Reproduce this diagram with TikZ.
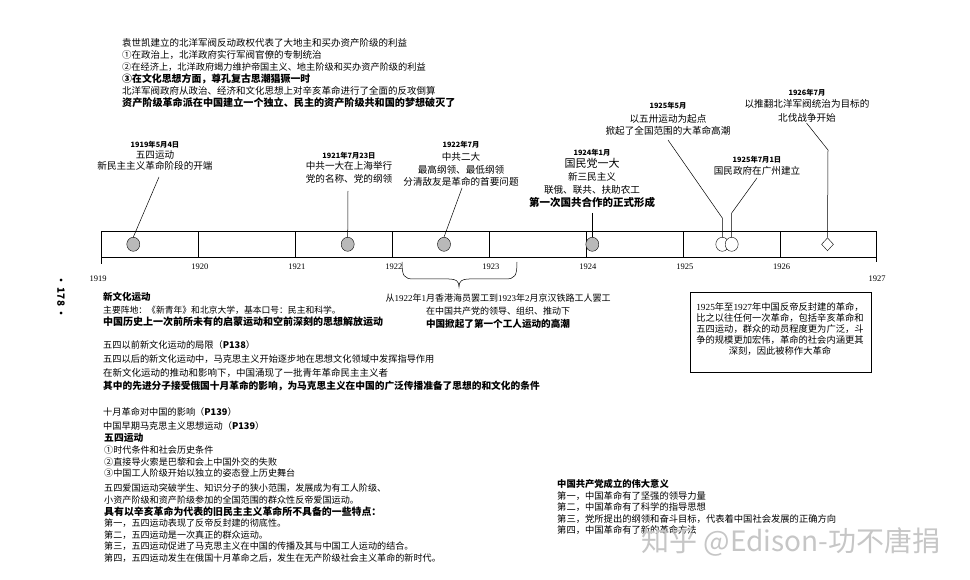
\documentclass[tikz,border=0pt]{standalone}
\usepackage{fontspec}
\setmainfont{Noto Sans CJK SC}
\newfontfamily\yrfont{Liberation Serif}
\usetikzlibrary{shapes.geometric}

\newcommand\dte[1]{{\fontsize{7.3}{10}\selectfont\bfseries #1}}
\newcommand\num[1]{{\yrfont #1}}

\tikzset{
  para/.style={anchor=north west, align=left, inner sep=0pt, font=\fontsize{9.5}{12}\selectfont},
  evt/.style={anchor=north, align=center, inner sep=0pt, font=\fontsize{9.6}{12.5}\selectfont},
  dot/.style={ellipse, draw, fill=gray!55, minimum width=13pt, minimum height=14pt, inner sep=0pt},
  opendot/.style={dot, fill=white},
  yr/.style={font=\yrfont\fontsize{8.5}{10}\selectfont, inner sep=0pt},
  conn/.style={line width=0.5pt},
}

\begin{document}
\begin{tikzpicture}[x=1pt, y=-1pt]
\useasboundingbox (0,0) rectangle (970,580);

% page number
\node[rotate=-90, font=\bfseries\fontsize{10}{12}\selectfont] (pageno) at (61,297) {· 178 ·};

% the warlord regime
\node[para] (warlord) at (122,38.5) {袁世凯建立的北洋军阀反动政权代表了大地主和买办资产阶级的利益\\
①在政治上，北洋政府实行军阀官僚的专制统治\\
{\fontsize{9.2}{12}\selectfont ②在经济上，北洋政府竭力维护帝国主义、地主阶级和买办资产阶级的利益}\\
{\fontsize{9.9}{12}\selectfont\bfseries ③在文化思想方面，尊孔复古思潮猖獗一时}\\
北洋军阀政府从政治、经济和文化思想上对辛亥革命进行了全面的反攻倒算\\
{\fontsize{10.1}{12}\selectfont\bfseries 资产阶级革命派在中国建立一个独立、民主的资产阶级共和国的梦想破灭了}};

% the time bar
\draw[line width=0.6pt] (101,231) rectangle (876.7,257.5);
\foreach \yr [count=\i from 0] in {1919,...,1927} {
  \coordinate (t\yr) at ({101+96.96*\i},257.5);
}
\foreach \yr [count=\i from 1] in {1920,...,1926} {
  \draw (t\yr) -- ++(0,-26.5);
  \node[yr] (yl\yr) at ({103+96.96*\i},267) {\yr};
}
\draw (t1919) -- ++(0,7);
\draw (t1927) -- ++(0,5);
\node[yr] (yl1919) at (98,278.5) {1919};
\node[yr] (yl1927) at (877,279) {1927};

% events on the bar
\node[dot] (may4) at (133.3,244.3) {};
\node[dot] (cpc1) at (347.7,244.3) {};
\node[dot] (cpc2) at (444,244.3) {};
\node[dot] (kmt1) at (592.3,244.3) {};
\node[opendot] (may30) at (722.3,244.3) {};
\node[opendot] (natgov) at (731.7,244.3) {};
\node[diamond, draw, fill=white, minimum width=12pt, minimum height=13pt, inner sep=0pt] (northexp) at (827.5,244.3) {};

% event labels
\node[evt] (may4lbl) at (155,141) {\dte{1919年5月4日}\\[-1.5pt]五四运动\\[-1.5pt]新民主主义革命阶段的开端};
\node[evt] (cpc1lbl) at (349,152.5) {\dte{1921年7月23日}\\[-1.5pt]中共一大在上海举行\\党的名称、党的纲领};
\node[evt] (cpc2lbl) at (461,141) {\dte{1922年7月}\\[0.5pt]中共二大\\[1pt]最高纲领、最低纲领\\[-1pt]分清敌友是革命的首要问题};
\node[evt] (kmt1lbl) at (592,149) {\dte{1924年1月}\\{\fontsize{11}{13}\selectfont 国民党一大}\\[0.5pt]新三民主义\\联俄、联共、扶助农工\\[0.5pt]{\fontsize{10.5}{13}\selectfont\bfseries 第一次国共合作的正式形成}};
\node[evt] (may30lbl) at (668,102) {\dte{1925年5月}\\[1.5pt]以五卅运动为起点\\掀起了全国范围的大革命高潮};
\node[evt] (natgovlbl) at (757,156.5) {\dte{1925年7月1日}\\[-0.5pt]国民政府在广州建立};
\node[evt] (northexplbl) at (807,89) {\dte{1926年7月}\\以推翻北洋军阀统治为目标的\\[1pt]北伐战争开始};

% connectors
\coordinate (may4top) at (159,177);
\coordinate (cpc1top) at (348,191);
\coordinate (cpc2top) at (462,188);
\coordinate (kmt1top) at (592.3,213);
\coordinate (may30top) at (668,140);
\coordinate (may30bend) at (722.3,218);
\coordinate (natgovtop) at (757,178);
\coordinate (natgovbend) at (731.7,213);
\coordinate (northexptop) at (806.5,123);
\coordinate (northexpbend) at (828,150);
\draw[conn] (may4top) -- (may4.north);
\draw[conn] (cpc1top) -- (cpc1.north);
\draw[conn] (cpc2top) -- (cpc2.north);
\draw[conn] (kmt1top) -- (kmt1.north);
\draw[conn] (may30top) -- (may30bend) -- (may30.north);
\draw[conn] (natgovtop) -- (natgovbend) -- (natgov.north);
\draw[conn] (northexptop) -- (northexpbend) -- (northexp.north);

% brace under 1922-1923
\coordinate (braceL) at (402,262);
\coordinate (braceR) at (517,262);
\coordinate (braceTip) at (459,287);
\draw[conn] (braceL) .. controls (402,276) and (404,279) .. (414,279) -- (449,279)
  .. controls (456,279) and (459,281) .. (braceTip)
  .. controls (459,281) and (462,279) .. (469,279) -- (505,279)
  .. controls (515,279) and (517,276) .. (braceR);
\node[anchor=north, align=center, inner sep=0pt, font=\fontsize{9}{13}\selectfont] (strikes) at (498,293.5)
  {从\num{1922}年\num{1}月香港海员罢工到\num{1923}年\num{2}月京汉铁路工人罢工\\
   在中国共产党的领导、组织、推动下\\
   {\fontsize{9.6}{13}\selectfont\bfseries 中国掀起了第一个工人运动的高潮}};

% the great revolution box
\node[draw, line width=0.5pt, minimum width=181pt, minimum height=80pt, inner sep=0pt] (bigrevbox) at (780.5,332) {};
\node[align=center, inner sep=0pt, font=\fontsize{9.3}{11}\selectfont] (bigrev) at (780,329)
  {\num{1925}年至\num{1927}年中国反帝反封建的革命，\\
   比之以往任何一次革命，包括辛亥革命和\\
   五四运动，群众的动员程度更为广泛，斗\\
   争的规模更加宏伟，革命的社会内涵更其\\
   深刻，因此被称作大革命};

% new culture movement
\node[para, font=\fontsize{9.5}{12.7}\selectfont] (newcult) at (103,292) {\textbf{新文化运动}\\
{\fontsize{8.8}{12.7}\selectfont 主要阵地：《新青年》和北京大学，基本口号：民主和科学。}\\
{\fontsize{10}{12.7}\selectfont\bfseries 中国历史上一次前所未有的启蒙运动和空前深刻的思想解放运动}};

\node[para, font=\fontsize{9.2}{13.8}\selectfont] (limits) at (103,340.5) {五四以前新文化运动的局限（\textbf{P138}）\\
五四以后的新文化运动中，马克思主义开始逐步地在思想文化领域中发挥指导作用\\
{\fontsize{9.5}{13.8}\selectfont 在新文化运动的推动和影响下，中国涌现了一批青年革命民主主义者}\\
{\fontsize{9.7}{13.8}\selectfont\bfseries 其中的先进分子接受俄国十月革命的影响，为马克思主义在中国的广泛传播准备了思想的和文化的条件}};

\node[para, font=\fontsize{9.2}{13.5}\selectfont] (october) at (103,407.5) {十月革命对中国的影响（\textbf{P139}）\\
中国早期马克思主义思想运动（\textbf{P139}）};

% may fourth movement
\node[para, font=\fontsize{9.1}{11.6}\selectfont] (may4th) at (104,433.5) {{\fontsize{9.8}{11.6}\selectfont\bfseries 五四运动}\\
①时代条件和社会历史条件\\
②直接导火索是巴黎和会上中国外交的失败\\
③中国工人阶级开始以独立的姿态登上历史舞台\\[3.5pt]
五四爱国运动突破学生、知识分子的狭小范围，发展成为有工人阶级、\\
小资产阶级和资产阶级参加的全国范围的群众性反帝爱国运动。\\
{\fontsize{9.9}{11.6}\selectfont\bfseries 具有以辛亥革命为代表的旧民主主义革命所不具备的一些特点：}\\
第一，五四运动表现了反帝反封建的彻底性。\\
第二，五四运动是一次真正的群众运动。\\
第三，五四运动促进了马克思主义在中国的传播及其与中国工人运动的结合。\\
第四，五四运动发生在俄国十月革命之后，发生在无产阶级社会主义革命的新时代。};

% founding of the party
\node[para, font=\fontsize{9.3}{11.5}\selectfont] (cpcmeaning) at (557,479.5) {\textbf{中国共产党成立的伟大意义}\\
第一，中国革命有了坚强的领导力量\\
第二，中国革命有了科学的指导思想\\
第三，党所提出的纲领和奋斗目标，代表着中国社会发展的正确方向\\
第四，中国革命有了新的革命方法};

% watermark
\node[inner sep=0pt, text=gray!45, font=\fontsize{28}{30}\selectfont] (wmark) at (791,542) {知乎 @Edison-功不唐捐};
\end{tikzpicture}
\end{document}
